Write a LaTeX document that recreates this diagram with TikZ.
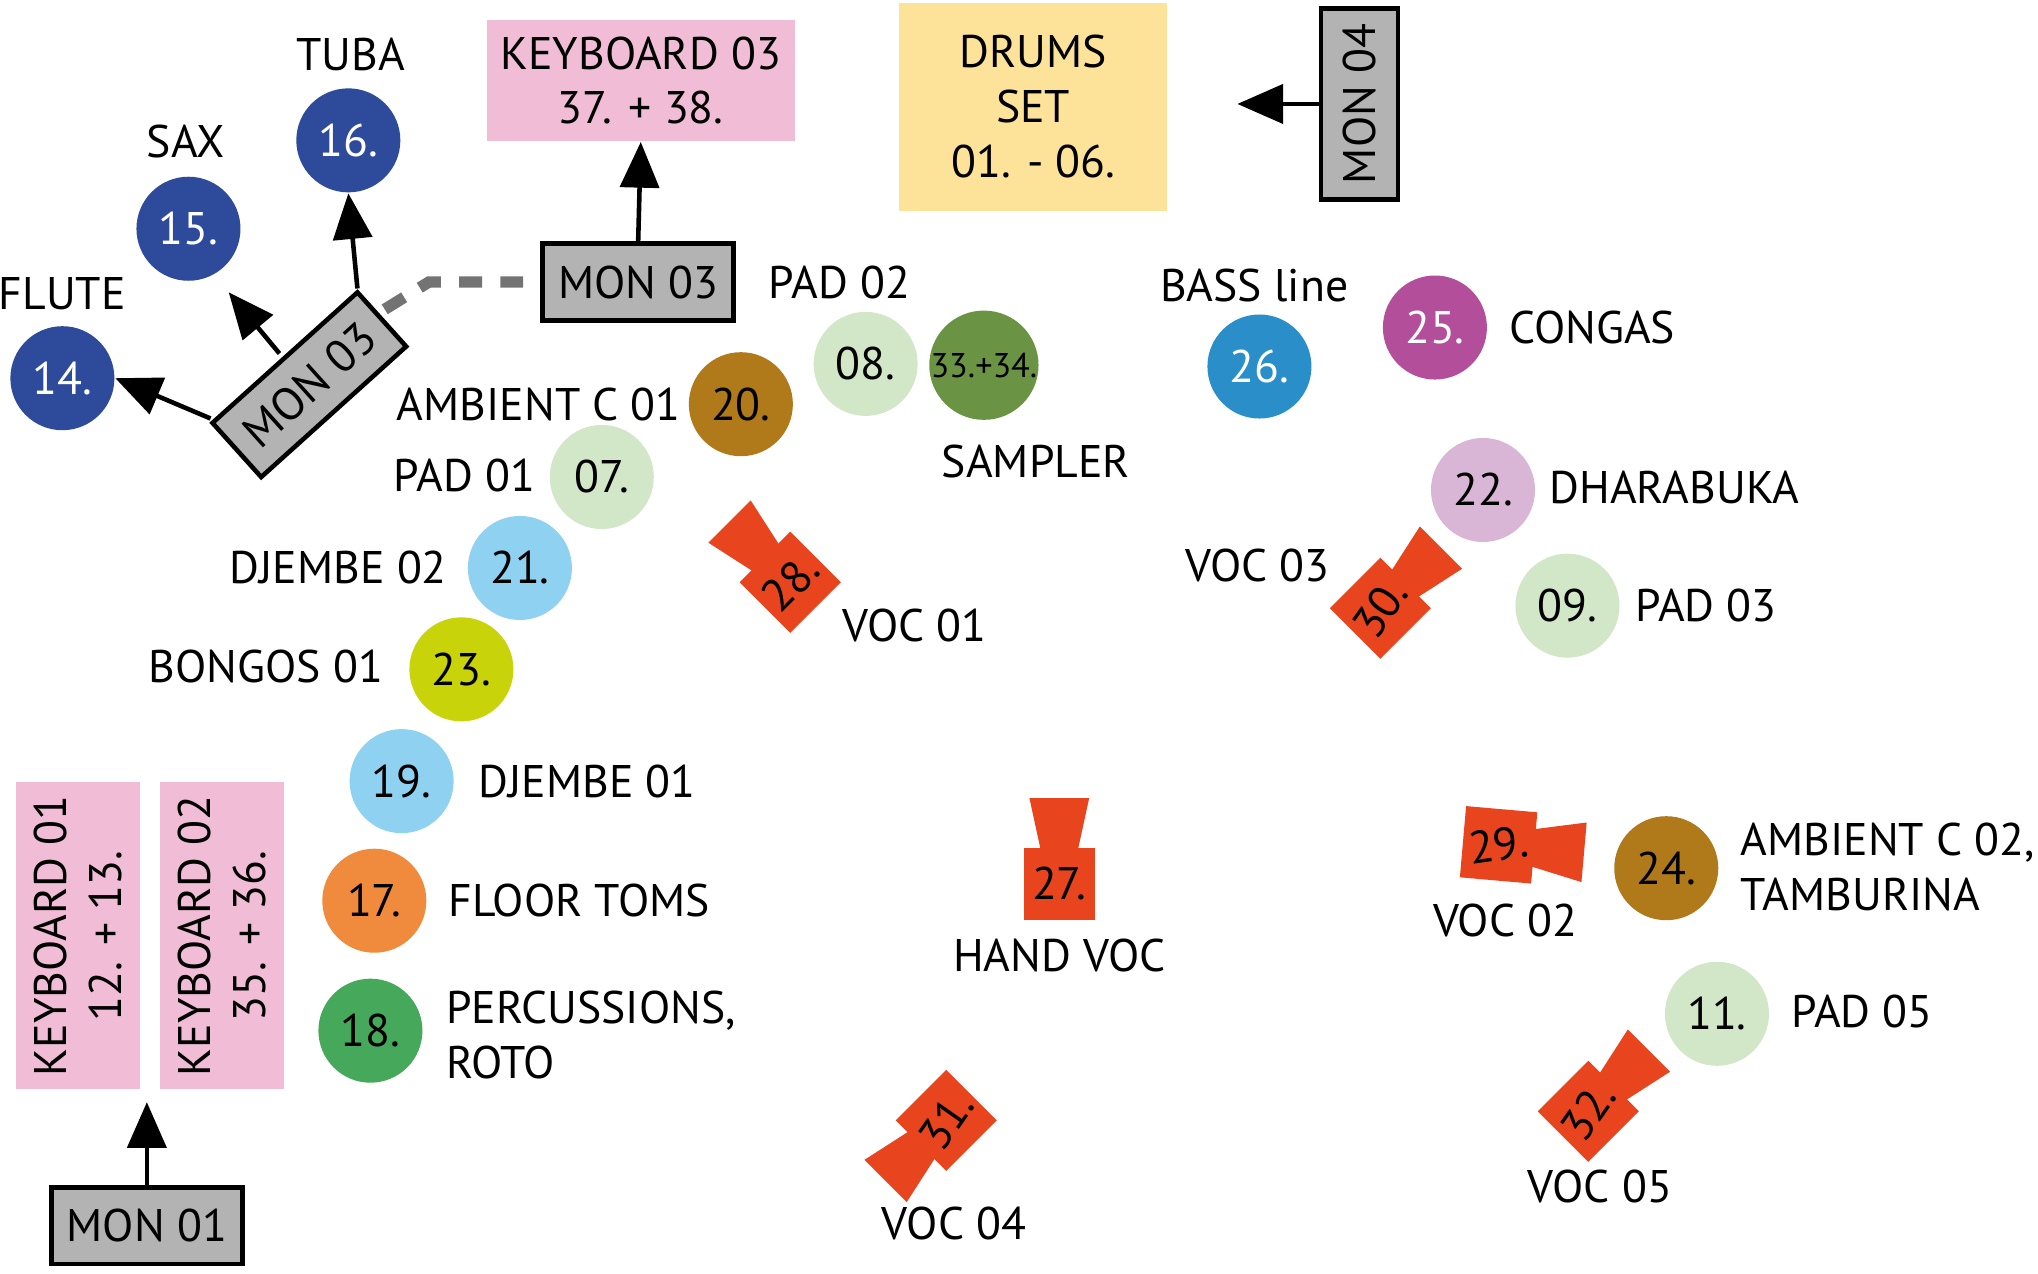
\documentclass[tikz,border=0pt]{standalone}
\usepackage{fontspec}
\setmainfont{PT Sans}
\usetikzlibrary{arrows.meta}
\definecolor{dblue}{HTML}{2E4A9B}
\definecolor{brownc}{HTML}{B07A1A}
\definecolor{lgreen}{HTML}{D2E6C8}
\definecolor{mgreen}{HTML}{6A9444}
\definecolor{lblue}{HTML}{8ED1F0}
\definecolor{ygreen}{HTML}{C9D30A}
\definecolor{orangec}{HTML}{F08A3C}
\definecolor{green2}{HTML}{45A85A}
\definecolor{bluec}{HTML}{2A8FC9}
\definecolor{magc}{HTML}{B24E9A}
\definecolor{lpurp}{HTML}{D9B5D6}
\definecolor{pinkc}{HTML}{F0BCD6}
\definecolor{yellc}{HTML}{FDE39A}
\definecolor{grayc}{HTML}{B3B3B3}
\definecolor{micred}{HTML}{E8441E}
\tikzset{
 every node/.style={font=\fontsize{10}{12}\selectfont},
 inst/.style={circle,fill=#1,minimum size=0.8cm,inner sep=0pt},
 lbl/.style={inner sep=1pt},
 mon/.style={draw=black,line width=1pt,fill=grayc,minimum width=1.47cm,minimum height=0.59cm,inner sep=0pt},
 pinkbox/.style={fill=pinkc,align=center,inner sep=0pt},
 arr/.style={line width=1pt,-{Triangle[length=10pt,width=8.5pt]}},
 pics/mic/.style n args={3}{code={
   \fill[micred,rotate=#1] (-27.5,-27.5) rectangle (27.5,27.5);
   \fill[micred,rotate=#1] (20,-13) -- (66,-23) -- (66,23) -- (20,13) -- cycle;
   \node[rotate=#2,inner sep=0pt] at (0,0) {#3};
 }}
}
\begin{document}
\begin{tikzpicture}[x=0.01cm,y=-0.01cm]
\useasboundingbox (0,0) rectangle (1568,980);
% drums and boxes
\node[fill=yellc,minimum width=2.06cm,minimum height=1.6cm,align=center,inner sep=0pt] (drums) at (795,82) {DRUMS\\SET\\01. - 06.};
\node[pinkbox,minimum width=2.37cm,minimum height=0.93cm] (kb3) at (493,62) {KEYBOARD 03\\37. + 38.};
\node[mon,rotate=90] (mon4) at (1046,80) {MON 04};
\coordinate (m4t) at (952,80);
\draw[arr] (mon4.north) -- (m4t);
\node[mon] (mon3b) at (491,217) {MON 03};
\draw[arr] (mon3b.north) -- (kb3.south);
\node[mon,minimum width=1.5cm,minimum height=0.56cm,rotate=42] (mon3a) at (238,296) {MON 03};
\node[pinkbox,minimum width=2.36cm,minimum height=0.95cm,rotate=90] (kb1) at (60,720) {KEYBOARD 01\\12. + 13.};
\node[pinkbox,minimum width=2.36cm,minimum height=0.95cm,rotate=90] (kb2) at (171,720) {KEYBOARD 02\\35. + 36.};
\node[mon] (mon1) at (113,943) {MON 01};
\coordinate (m1t) at (113,848);
\draw[arr] (mon1.north) -- (m1t);
% circles
\node[inst=dblue,text=white] (c14) at (48,291) {14.};
\node[inst=dblue,text=white] (c15) at (145,176) {15.};
\node[inst=dblue,text=white] (c16) at (268,108) {16.};
\coordinate (a1) at (162,322); \coordinate (a2) at (215,272); \coordinate (a3) at (275,222);
\coordinate (b2) at (176,225);
\draw[arr] (a1) -- (c14.east);
\draw[arr] (a2) -- (b2);
\draw[arr] (a3) -- (c16.south);
\coordinate (d0) at (296,238);
\coordinate (d1) at (330,217);
\draw[line width=2.5pt,gray!90!black,dash pattern=on 5pt off 4pt] (d0) -- (d1) -- (mon3b.west);
\node[inst=brownc] (c20) at (570,311) {20.};
\node[inst=lgreen] (c08) at (666,280) {08.};
\node[inst=mgreen,font=\fontsize{7.5}{9}\selectfont] (c33) at (757,281) {33.+34.};
\node[inst=lgreen] (c07) at (463,367) {07.};
\node[inst=lblue] (c21) at (400,437) {21.};
\node[inst=ygreen] (c23) at (355,515) {23.};
\node[inst=lblue] (c19) at (309,601) {19.};
\node[inst=orangec] (c17) at (288,693) {17.};
\node[inst=green2] (c18) at (285,793) {18.};
\node[inst=bluec,text=white] (c26) at (969,282) {26.};
\node[inst=magc,text=white] (c25) at (1104,252) {25.};
\node[inst=lpurp] (c22) at (1141,377) {22.};
\node[inst=lgreen] (c09) at (1206,466) {09.};
\node[inst=brownc] (c24) at (1282,668) {24.};
\node[inst=lgreen] (c11) at (1321,780) {11.};
% mics
\pic at (608,448) {mic={135}{45}{28.}};
\pic at (1062,468) {mic={45}{55}{30.}};
\pic at (815,680) {mic={90}{0}{27.}};
\pic at (1153,650) {mic={-5}{8}{29.}};
\pic at (728,862) {mic={225}{55}{31.}};
\pic at (1222,855) {mic={45}{55}{32.}};
% labels
\node[lbl] (t1) at (48,226) {FLUTE};
\node[lbl] (t2) at (143,109) {SAX};
\node[lbl] (t3) at (270,42) {TUBA};
\node[lbl,anchor=east] (t4) at (528,311) {AMBIENT C 01};
\node[lbl,anchor=east] (t5) at (416,366) {PAD 01};
\node[lbl,anchor=east] (t6) at (348,437) {DJEMBE 02};
\node[lbl,anchor=east] (t7) at (299,513) {BONGOS 01};
\node[lbl,anchor=west] (t8) at (364,601) {DJEMBE 01};
\node[lbl,anchor=west] (t9) at (341,693) {FLOOR TOMS};
\node[lbl,anchor=west,align=left] (t10) at (339,796) {PERCUSSIONS,\\ROTO};
\node[lbl] (t11) at (646,217) {PAD 02};
\node[lbl] (t12) at (797,355) {SAMPLER};
\node[lbl,anchor=west] (t13) at (644,481) {VOC 01};
\node[lbl] (t14) at (965,220) {BASS line};
\node[lbl,anchor=west] (t15) at (1157,252) {CONGAS};
\node[lbl,anchor=west] (t16) at (1188,375) {DHARABUKA};
\node[lbl,anchor=east] (t17) at (1027,435) {VOC 03};
\node[lbl,anchor=west] (t18) at (1254,466) {PAD 03};
\node[lbl,anchor=west,align=left] (t19) at (1335,667) {AMBIENT C 02,\\TAMBURINA};
\node[lbl] (t20) at (1158,708) {VOC 02};
\node[lbl] (t21) at (815,735) {HAND VOC};
\node[lbl,anchor=west] (t22) at (1374,778) {PAD 05};
\node[lbl] (t23) at (734,941) {VOC 04};
\node[lbl] (t24) at (1231,913) {VOC 05};
\end{tikzpicture}
\end{document}
